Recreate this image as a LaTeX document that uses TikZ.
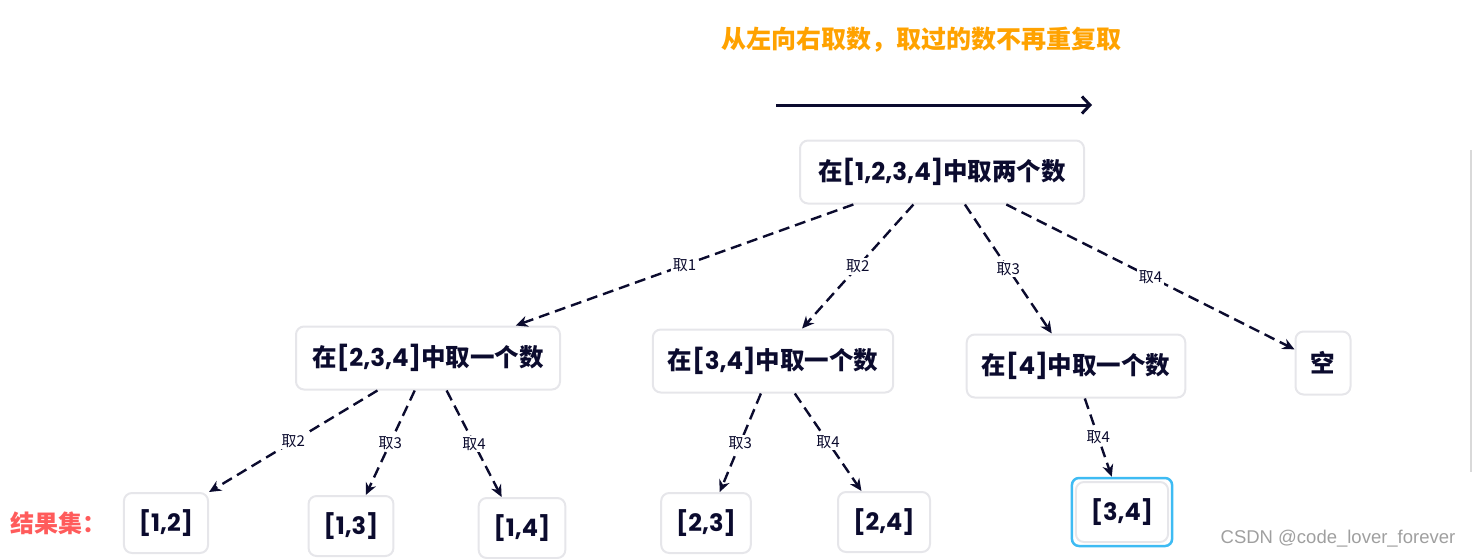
\documentclass[tikz,border=0pt]{standalone}
\usepackage{fontspec}
\setmainfont{Noto Sans CJK SC}
\newfontfamily\popfont{Poppins}
\newfontfamily\wmfont{Liberation Sans}
\usepackage{xcolor}
\usetikzlibrary{arrows.meta,positioning,calc,fit}

\definecolor{navy}{HTML}{0B0B2E}
\definecolor{boxgray}{HTML}{E6E6EA}
\definecolor{titleorange}{HTML}{FFA200}
\definecolor{resred}{HTML}{FF5B5B}
\definecolor{pickblue}{HTML}{3EBBF3}
\newcommand{\nums}[1]{{\popfont\bfseries #1}}

\begin{document}
\begin{tikzpicture}[
    x=1pt, y=-1pt,
    box/.style={rectangle, draw=boxgray, fill=white, line width=2pt, rounded corners=8pt, align=center, minimum height=63pt, inner xsep=15pt, text=navy, font=\fontsize{24.5}{27}\selectfont\bfseries},
    leaf/.style={box, minimum height=60pt, minimum width=84pt, font=\fontsize{24}{27}\selectfont\bfseries},
    arrow/.style={-{Stealth[length=12pt,width=11pt]}, line width=2.4pt, draw=navy, dash pattern=on 11pt off 6pt},
    lbl/.style={fill=white, inner sep=1.5pt, text=navy, font=\fontsize{15}{17}\selectfont}
]
    \useasboundingbox (0,0) rectangle (1473,558);

    % heading and direction arrow
    \node [text=titleorange, font=\fontsize{25}{29}\selectfont\bfseries] (title) at (921,40) {从左向右取数，取过的数不再重复取};
    \coordinate (dirL) at (776,105);
    \coordinate (dirR) at (1092,105);
    \draw [line width=3pt, navy, -{Straight Barb[length=8pt,width=17pt]}] (dirL) -- (dirR);

    % tree
    \node [box, minimum width=284pt] (root) at (942,172) {在\nums{[1,2,3,4]}中取两个数};
    \node [box, minimum width=264pt] (pick1) at (428,358) {在\nums{[2,3,4]}中取一个数};
    \node [box, minimum width=240pt] (pick2) at (773,361) {在\nums{[3,4]}中取一个数};
    \node [box, minimum width=217pt] (pick3) at (1076,366) {在\nums{[4]}中取一个数};
    \node [box, minimum width=55pt, inner xsep=10pt] (pick4) at (1323,363) {空};

    \node [leaf] (r12) at (166,523) {\nums{[1,2]}};
    \node [leaf] (r13) at (351,526) {\nums{[1,3]}};
    \node [leaf] (r14) at (522,528) {\nums{[1,4]}};
    \node [leaf, minimum width=89pt] (r23) at (706,523) {\nums{[2,3]}};
    \node [leaf, minimum width=92pt] (r24) at (884,522) {\nums{[2,4]}};
    \node [leaf, minimum width=91pt] (r34) at (1122,512) {\nums{[3,4]}};
    \node [draw=pickblue, line width=2.5pt, rounded corners=7pt, inner sep=3pt, fit=(r34)] (r34sel) {};

    \node [text=resred, font=\fontsize{24}{27}\selectfont\bfseries] (res) at (58,523) {结果集：};

    % edges
    \draw [arrow] ($(root.south west)!0.19!(root.south east)$) -- ($(pick1.north west)!0.83!(pick1.north east)$) node [lbl, midway] {取1};
    \draw [arrow] ($(root.south west)!0.40!(root.south east)$) -- ($(pick2.north west)!0.62!(pick2.north east)$) node [lbl, midway] {取2};
    \draw [arrow] ($(root.south west)!0.58!(root.south east)$) -- ($(pick3.north west)!0.39!(pick3.north east)$) node [lbl, midway] {取3};
    \draw [arrow] ($(root.south west)!0.725!(root.south east)$) -- ($(pick4.north west)!0.29!(pick4.south west)$) node [lbl, midway] {取4};

    \draw [arrow] ($(pick1.south west)!0.31!(pick1.south east)$) -- (r12.north east) node [lbl, midway] {取2};
    \draw [arrow] ($(pick1.south west)!0.45!(pick1.south east)$) -- ($(r13.north west)!0.67!(r13.north east)$) node [lbl, midway] {取3};
    \draw [arrow] ($(pick1.south west)!0.57!(pick1.south east)$) -- ($(r14.north west)!0.27!(r14.north east)$) node [lbl, midway] {取4};

    \draw [arrow] ($(pick2.south west)!0.45!(pick2.south east)$) -- ($(r23.north west)!0.65!(r23.north east)$) node [lbl, midway] {取3};
    \draw [arrow] ($(pick2.south west)!0.59!(pick2.south east)$) -- ($(r24.north west)!0.26!(r24.north east)$) node [lbl, midway] {取4};

    \draw [arrow] ($(pick3.south west)!0.54!(pick3.south east)$) -- ($(r34sel.north west)!0.40!(r34sel.north east)$) node [lbl, midway] {取4};

    % watermark and page edge
    \node [text=gray!75, font=\wmfont\fontsize{18.5}{20}\selectfont] (mark) at (1338,539) {CSDN @code\_lover\_forever};
    \draw [line width=2pt, gray!30] (1471,150) -- (1471,472);
\end{tikzpicture}
\end{document}
